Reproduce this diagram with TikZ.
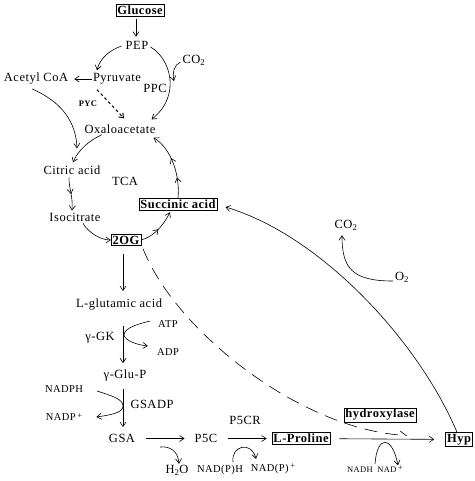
\documentclass[tikz,border=0pt]{standalone}
\usepackage{fontspec}
\setmainfont{Liberation Serif}[LetterSpace=4.0]
\usetikzlibrary{arrows.meta,decorations.markings}
\newcommand{\plussup}{\raisebox{0.55ex}{\fontsize{8.5}{9}\selectfont +}}
\tikzset{
  txt/.style={font=\fontsize{12.5}{14}\selectfont, inner sep=1pt},
  sm/.style={font=\fontsize{10.5}{12}\selectfont, inner sep=1pt},
  xs/.style={font=\fontsize{8.5}{10}\selectfont, inner sep=1pt},
  bx/.style={draw, line width=0.6pt, font=\bfseries\fontsize{12.5}{14}\selectfont, inner sep=1.5pt},
  ar/.style={-{Straight Barb[length=4.5pt,width=6pt]}, line width=0.6pt},
  mid1/.style={postaction={decorate,decoration={markings,
     mark=at position 0.5 with {\arrow{Straight Barb[length=4.5pt,width=6pt]}}}}},
  mid2/.style={postaction={decorate,decoration={markings,
     mark=at position 0.3 with {\arrow{Straight Barb[length=4.5pt,width=6pt]}},
     mark=at position 0.6 with {\arrow{Straight Barb[length=4.5pt,width=6pt]}}}}},
  dashar/.style={-{Straight Barb[length=4pt,width=6pt]}, line width=1pt, dash pattern=on 3pt off 2.5pt},
  longdash/.style={-{Straight Barb[harpoon,length=6pt,width=8pt]}, line width=0.6pt, dash pattern=on 13pt off 8pt},
}
\begin{document}
\begin{tikzpicture}[x=1pt,y=-1pt]
\useasboundingbox (0,0) rectangle (474,481);

% nodes
\node[bx]  (glc)  at (140,10)  {Glucose};
\node[txt] (pep)  at (137,45)  {PEP};
\node[txt] (co2a) at (194,60)  {CO\textsubscript{2}};
\node[txt] (acoa) at (36,79)   {Acetyl CoA};
\node[txt] (pyr)  at (117,79)  {Pyruvate};
\node[txt] (ppc)  at (155,88)  {PPC};
\node[font=\bfseries\fontsize{8.5}{10}\selectfont, inner sep=1pt] (pyc) at (88,104) {PYC};
\node[txt] (oaa)  at (120,129) {Oxaloacetate};
\node[txt] (cit)  at (72,170)  {Citric acid};
\node[txt] (tca)  at (125,181) {TCA};
\node[txt] (iso)  at (75,217)  {Isocitrate};
\node[bx]  (succ) at (178,204) {Succinic acid};
\node[bx]  (og)   at (126,240) {2OG};
\node[txt] (co2b) at (346,225) {CO\textsubscript{2}};
\node[txt] (o2)   at (402,277) {O\textsubscript{2}};
\node[txt] (glu)  at (119,305) {L-glutamic acid};
\node[txt] (gk)   at (100,338) {γ-GK};
\node[sm]  (atp)  at (168,324) {ATP};
\node[sm]  (adp)  at (168,352) {ADP};
\node[txt] (gp)   at (125,375) {γ-Glu-P};
\node[sm]  (nadph) at (64,389) {NADPH};
\node[sm]  (nadpp) at (64,417) {NADP\,\plussup};
\node[txt] (gsadp) at (152,404) {GSADP};
\node[txt] (gsa)  at (122,438.5) {GSA};
\node[txt] (p5c)  at (206,438.5) {P5C};
\node[txt] (p5cr) at (245,420) {P5CR};
\node[bx]  (pro)  at (301,438.5) {L-Proline};
\node[bx]  (hyd)  at (380,415) {hydroxylase};
\node[bx]  (hyp)  at (459,439.5) {Hyp};
\node[txt] (h2o)  at (177,470) {H\textsubscript{2}O};
\node[sm]  (nph)  at (220,470) {NAD(P)H};
\node[sm]  (npp)  at (273,469) {NAD(P)\,\plussup};
\node[xs]  (nadh) at (360,470) {NADH};
\node[xs]  (nadp) at (390,469) {NAD\,\plussup};

\coordinate (co2tip) at (174,81);
\coordinate (gkm) at (124,335);
\coordinate (gsm) at (123,406);
\coordinate (h2s) at (160,447);

% top part
\draw[ar, shorten <=3pt, shorten >=3pt] ([xshift=-4pt]glc.south) -- ([xshift=-1pt]pep.north);
\draw[ar] ([shift={(-3,1)}]pep.west) .. controls (110,50) and (100,58) .. ([shift={(-20,-2)}]pyr.north);
\draw[ar, shorten >=5pt] (pyr) -- (acoa);
\draw[ar] ([shift={(1,2)}]pep.east) .. controls (170,58) and (182,95) .. ([shift={(-5,-4)}]oaa.north east);
\draw[ar] ([shift={(-1,2)}]co2a.west) .. controls (174,65) and (172,73) .. (co2tip);
\draw[dashar] ([shift={(-20,4)}]pyr.south) -- ([shift={(4,-5)}]oaa.north);

% TCA cycle
\draw[ar] ([shift={(-4,3)}]acoa.south) .. controls (62,102) and (76,122) .. ([shift={(5,-16)}]cit.north);
\draw[ar] ([shift={(-18,0)}]oaa.south) .. controls (90,140) and (78,150) .. ([shift={(1,-2)}]cit.north);
\draw[ar, mid1] ([shift={(-3,2)}]cit.south) .. controls (69,190) and (73,195) .. ([shift={(-3,-1)}]iso.north);
\draw[ar] ([shift={(8,1)}]iso.south) .. controls (88,232) and (100,240) .. (og.west);
\draw[ar, mid1] (og.east) .. controls (152,237) and (162,228) .. ([shift={(-8,2)}]succ.south);
\draw[ar, mid2] (succ.north) .. controls (180,178) and (173,150) .. ([shift={(-3,3)}]oaa.south east);

% Hyp back to succinic acid
\draw[ar] ([shift={(-2,0)}]hyp.north) .. controls (418,340) and (320,235) .. ([shift={(8,3)}]succ.east);
\draw[ar] ([shift={(-1,4)}]o2.west) .. controls (352,281) and (342,268) .. ([shift={(-4,4)}]co2b.south);

% dashed 2OG -> hydroxylase
\draw[longdash] ([shift={(2,3)}]og.south east) .. controls (175,330) and (300,430) .. ([shift={(27,13)}]hyd.south);

% proline pathway
\draw[ar] ([shift={(-3,8)}]og.south) -- ([shift={(4,-7)}]glu.north);
\draw[ar] ([shift={(4,14)}]glu.south) -- ([shift={(-2,-5)}]gp.north);
\draw[ar] ([shift={(-7,-3)}]atp.west) .. controls (138,324) and (124,328) .. (gkm) .. controls (125,341) and (138,345) .. ([shift={(-8,-6)}]adp.west);
\draw[ar] ([shift={(-2,7)}]gp.south) -- ([shift={(1,-6)}]gsa.north);
\draw[ar] ([shift={(13,2)}]nadph.east) .. controls (112,396) and (123,399) .. (gsm) .. controls (123,413) and (110,415) .. ([shift={(13,0)}]nadpp.east);
\draw[ar, shorten <=10pt, shorten >=9pt] (gsa) -- (p5c);
\draw[ar] (h2s) .. controls (170,446) and (178,451) .. ([shift={(2,0)}]h2o.north);
\draw[ar, shorten <=10pt, shorten >=5pt] (p5c) -- (pro);
\draw[ar] ([shift={(13,-2)}]nph.north) .. controls (231,445) and (252,441) .. ([shift={(-17,-4)}]npp.north);
\draw[ar, shorten <=9pt, shorten >=11pt] (pro) -- (hyp);
\draw[ar] ([shift={(15,-2)}]nadh.north) .. controls (377,435) and (392,435) .. ([shift={(8,1)}]nadp.north);
\end{tikzpicture}
\end{document}
